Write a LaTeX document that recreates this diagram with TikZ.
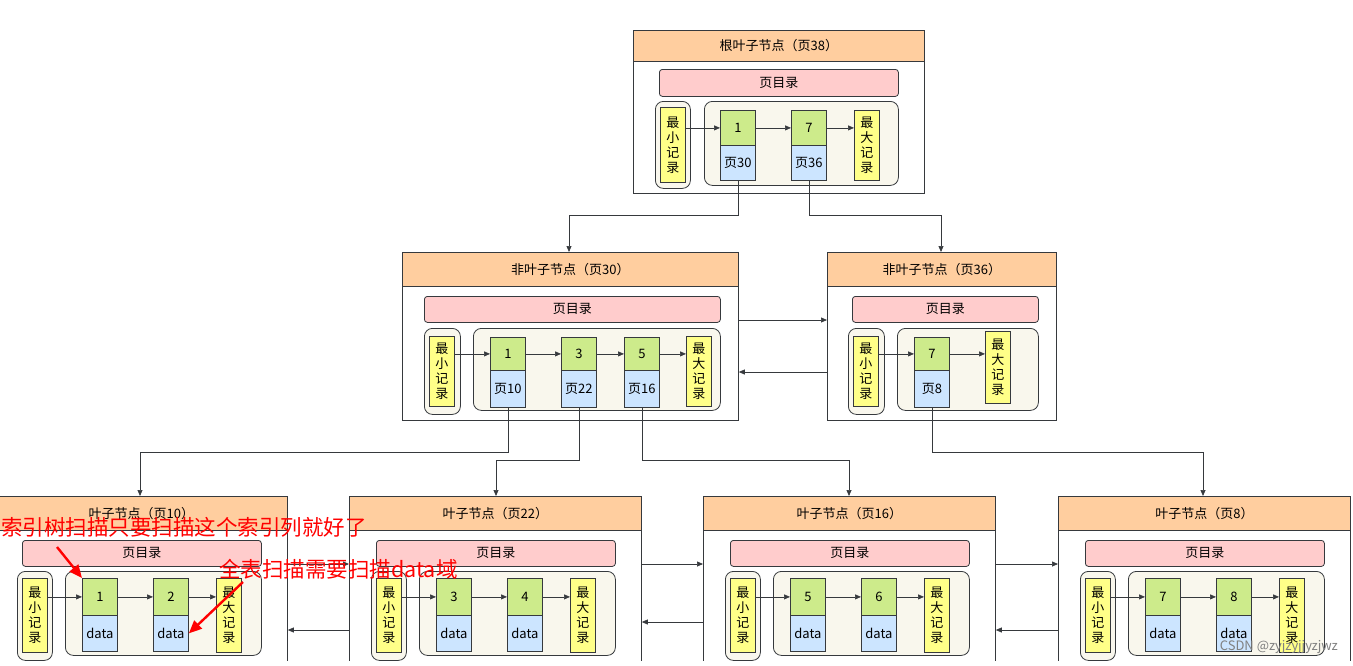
\documentclass[tikz,border=0pt]{standalone}
\usepackage{fontspec}
\setmainfont{Noto Sans CJK SC}
\usetikzlibrary{arrows.meta}
\definecolor{hdr}{HTML}{FFCE9F}
\definecolor{pnk}{HTML}{FFCCCC}
\definecolor{grp}{HTML}{F9F7ED}
\definecolor{ylw}{HTML}{FFFF88}
\definecolor{grn}{HTML}{CDEB8B}
\definecolor{blu}{HTML}{CCE5FF}
\definecolor{edg}{HTML}{36393D}
\tikzset{
  box/.style={draw=edg, line width=0.8pt, anchor=north west, inner sep=0pt},
  hdrbox/.style={box, fill=hdr, font=\fontsize{13}{15}\selectfont},
  outer/.style={box, fill=white},
  dir/.style={box, fill=pnk, rounded corners=3pt, font=\fontsize{13}{15}\selectfont},
  grpbox/.style={box, fill=grp, rounded corners=8pt},
  rec/.style={box, fill=ylw, minimum width=25pt, align=center, font=\fontsize{13}{15}\selectfont},
  key/.style={box, fill=grn, minimum width=35pt, font=\fontsize{13}{15}\selectfont},
  val/.style={box, fill=blu, minimum width=35pt, font=\fontsize{13}{15}\selectfont},
  link/.style={draw=edg, line width=0.7pt, -{Triangle[length=6pt,width=5pt]}},
  note/.style={red, anchor=base west, inner sep=0pt},
  redarr/.style={draw=red, line width=2.4pt, -{Triangle[length=13pt,width=11pt]}}
}
% \pgpage{name}{left}{right}{top}{header bottom}{bottom}{title}
\newcommand{\pgpage}[7]{%
  \node[outer, minimum width=#3pt-#2pt, minimum height=#6pt-#4pt] (#1) at (#2,#4) {};
  \node[hdrbox, minimum width=#3pt-#2pt, minimum height=#5pt-#4pt] (#1-h) at (#2,#4) {#7};}
% \kcell{name}{left}{top}{mid}{bottom}{key}{value}
\newcommand{\kcell}[7]{%
  \node[key, minimum height=#4pt-#3pt] (#1-k) at (#2,#3) {#6};
  \node[val, minimum height=#5pt-#4pt] (#1-v) at (#2,#4) {#7};}
\begin{document}
\begin{tikzpicture}[x=1pt,y=-1pt]
\useasboundingbox (0,0) rectangle (1353,665);
\begin{scope}
\clip (-10,0) rectangle (1353,660);

% root page 38
\pgpage{r}{633}{924}{30}{61}{193}{根叶子节点（页38）}
\node[dir, minimum width=239pt, minimum height=27pt] (r-d) at (659,69) {页目录};
\node[grpbox, minimum width=35pt, minimum height=87pt] (r-mg) at (655,101) {};
\node[grpbox, minimum width=194pt, minimum height=84pt] (r-g) at (704,101) {};
\node[rec, minimum height=75pt] (r-min) at (660,107) {最\\小\\记\\录};
\kcell{r1}{720}{110}{145}{180}{1}{页30}
\kcell{r7}{791}{110}{145}{180}{7}{页36}
\node[rec, minimum height=70pt] (r-max) at (854,110) {最\\大\\记\\录};
\draw[link] (r-min.east |- r1-k) -- (r1-k);
\draw[link] (r1-k) -- (r7-k);
\draw[link] (r7-k) -- (r-max.west |- r7-k);

% non-leaf page 30
\pgpage{a}{402}{738}{252}{286}{420}{非叶子节点（页30）}
\node[dir, minimum width=296pt, minimum height=26pt] (a-d) at (424,296) {页目录};
\node[grpbox, minimum width=36pt, minimum height=86pt] (a-mg) at (424,328) {};
\node[grpbox, minimum width=247pt, minimum height=82pt] (a-g) at (473,328) {};
\node[rec, minimum height=70pt] (a-min) at (429,336) {最\\小\\记\\录};
\kcell{a1}{490}{337}{370}{407}{1}{页10}
\kcell{a3}{561}{337}{370}{407}{3}{页22}
\kcell{a5}{624}{337}{370}{407}{5}{页16}
\node[rec, minimum height=70pt] (a-max) at (686,336) {最\\大\\记\\录};
\draw[link] (a-min.east |- a1-k) -- (a1-k);
\draw[link] (a1-k) -- (a3-k);
\draw[link] (a3-k) -- (a5-k);
\draw[link] (a5-k) -- (a-max.west |- a5-k);

% non-leaf page 36
\pgpage{b}{827}{1056}{252}{286}{420}{非叶子节点（页36）}
\node[dir, minimum width=186pt, minimum height=26pt] (b-d) at (852,296) {页目录};
\node[grpbox, minimum width=36pt, minimum height=86pt] (b-mg) at (848,328) {};
\node[grpbox, minimum width=141pt, minimum height=82pt] (b-g) at (897,328) {};
\node[rec, minimum height=70pt] (b-min) at (853,336) {最\\小\\记\\录};
\kcell{b7}{914}{337}{370}{407}{7}{页8}
\node[rec, minimum height=72pt] (b-max) at (985,331) {最\\大\\记\\录};
\draw[link] (b-min.east |- b7-k) -- (b7-k);
\draw[link] (b7-k) -- (b-max.west |- b7-k);

% leaves
\foreach \n/\L/\t/\ka/\kb in {l10/-5/10/1/2, l22/349/22/3/4, l16/703/16/5/6, l8/1058/8/7/8}{
  \pgpage{\n}{\L}{\L+292}{496}{530}{700}{叶子节点（页\t）}
  \node[dir, minimum width=239pt, minimum height=26pt] (\n-d) at (\L+27,540) {页目录};
  \node[grpbox, minimum width=35pt, minimum height=89pt] (\n-mg) at (\L+22,571) {};
  \node[grpbox, minimum width=196pt, minimum height=84pt] (\n-g) at (\L+70,571) {};
  \node[rec, minimum height=74pt] (\n-min) at (\L+27,578) {最\\小\\记\\录};
  \kcell{\n a}{\L+87}{578}{615}{651}{\ka}{data}
  \kcell{\n b}{\L+158}{578}{615}{651}{\kb}{data}
  \node[rec, minimum height=74pt] (\n-max) at (\L+221,578) {最\\大\\记\\录};
  \draw[link] (\n-min.east |- \n a-k) -- (\n a-k);
  \draw[link] (\n a-k) -- (\n b-k);
  \draw[link] (\n b-k) -- (\n-max.west |- \n b-k);
}

% tree links
\draw[link] (r1-v.south) |- (569,215) -- (a.north -| 569,0);
\draw[link] (r7-v.south) |- (941,215) -- (b.north -| 941,0);
\draw[link] (a1-v.south) |- (140,452) -- (l10.north -| 140,0);
\draw[link] (a3-v.south) |- (496,460) -- (l22.north -| 496,0);
\draw[link] (a5-v.south) |- (849,460) -- (l16.north -| 849,0);
\draw[link] (b7-v.south) |- (1203,452) -- (l8.north -| 1203,0);

% sibling links
\draw[link] (a.east |- 0,320) -- (b.west |- 0,320);
\draw[link] (b.west |- 0,372) -- (a.east |- 0,372);
\draw[link] (l10.east |- 0,564) -- (l22.west |- 0,564);
\draw[link] (l22.west |- 0,630) -- (l10.east |- 0,630);
\draw[link] (l22.east |- 0,564) -- (l16.west |- 0,564);
\draw[link] (l16.west |- 0,622) -- (l22.east |- 0,622);
\draw[link] (l16.east |- 0,564) -- (l8.west |- 0,564);
\draw[link] (l8.west |- 0,630) -- (l16.east |- 0,630);
\end{scope}

% annotations
\node[note, font=\fontsize{21.5}{24}\selectfont] (n1) at (1,535) {索引树扫描只要扫描这个索引列就好了};
\node[note, font=\fontsize{21.5}{24}\selectfont] (n2) at (219,577) {全表扫描需要扫描data域};
\coordinate (n1s) at (57,547);
\coordinate (n2s) at (243,582);
\draw[redarr] (n1s) -- (l10a-k.north west);
\draw[redarr] (n2s) -- (l10b-v.east);
\node[gray, font=\fontsize{13}{15}\selectfont, anchor=base east, inner sep=0pt] (wm) at (1338,650) {CSDN @zyjzyjjyzjwz};
\end{tikzpicture}
\end{document}
